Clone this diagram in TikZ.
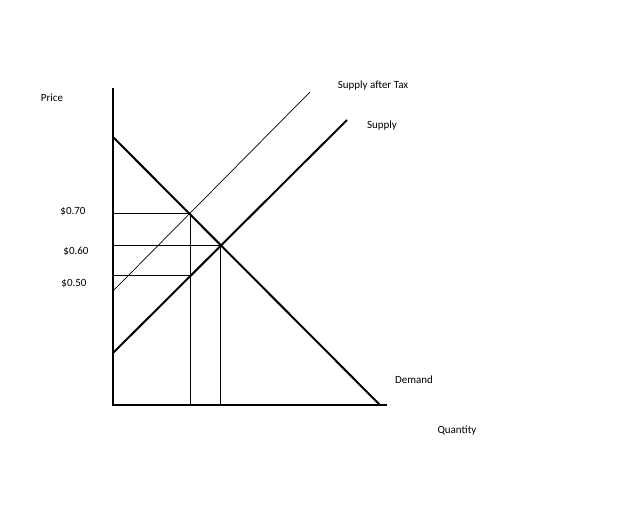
\documentclass[tikz,border=0pt]{standalone}
\usepackage{fontspec}
\setmainfont{Carlito}
\begin{document}
\begin{tikzpicture}[x=1pt,y=-1pt,
  thick line/.style={line width=2pt},
  thin line/.style={line width=0.7pt},
  lbl/.style={font=\fontsize{11}{13}\selectfont, inner sep=0pt}]
\useasboundingbox (0,0) rectangle (636,509);
\coordinate (ytop) at (113,88);
\coordinate (o) at (113,405);
\coordinate (xend) at (387,405);
\coordinate (d1) at (113,137);
\coordinate (d2) at (380,405);
\coordinate (s1) at (113,353);
\coordinate (s2) at (347,120);
\coordinate (t1) at (113,291);
\coordinate (t2) at (310,92);
\coordinate (a) at (190,213);
\coordinate (e) at (220,245);
\coordinate (b) at (190,275);
\coordinate (ya) at (113,213);
\coordinate (ye) at (113,245);
\coordinate (yb) at (113,275);
\coordinate (xa) at (190,405);
\coordinate (xe) at (220,405);
\draw[thick line] (ytop) -- (o) -- (xend);
\draw[thick line] (d1) -- (d2);
\draw[thick line] (s1) -- (s2);
\draw[thin line] (t1) -- (t2);
\draw[thin line] (ya) -- (a) -- (xa);
\draw[thin line] (ye) -- (e) -- (xe);
\draw[thin line] (yb) -- (b);
\node[lbl] (price) at (52,98) {Price};
\node[lbl] (p70) at (73,212) {\$0.70};
\node[lbl] (p60) at (76,251) {\$0.60};
\node[lbl] (p50) at (74,284) {\$0.50};
\node[lbl] (sat) at (373,86) {Supply after Tax};
\node[lbl] (sup) at (382,126) {Supply};
\node[lbl] (dem) at (414,380) {Demand};
\node[lbl] (qty) at (457,431) {Quantity};
\end{tikzpicture}
\end{document}
